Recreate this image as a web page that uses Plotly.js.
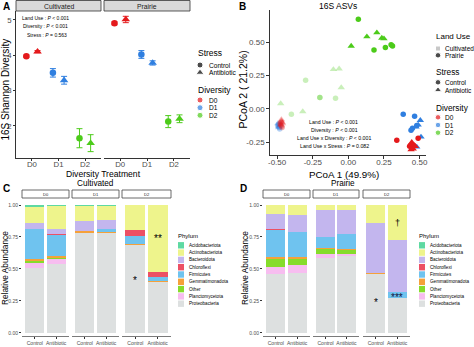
<!DOCTYPE html>
<html><head><meta charset="utf-8">
<script src="https://cdn.plot.ly/plotly-3.0.1.min.js"></script>
<style>html,body{margin:0;padding:0;background:#fff}#chart{width:474px;height:347px}</style>
</head><body><div id="chart"></div>
<script>
const W=474,H=347;
// ---------- Panel A: Shannon diversity ----------
const diversityLevels=['D0','D1','D2'];
const stressLevels=['Control','Antibiotic'];
const shannonCultControl=[3.97,3.50,1.65];
const shannonCultControlSE=[0.03,0.12,0.27];
const shannonCultAntibiotic=[4.10,3.29,1.51];
const shannonCultAntibioticSE=[0.03,0.11,0.24];
const shannonPrairieControl=[4.90,4.02,2.12];
const shannonPrairieControlSE=[0.04,0.11,0.17];
const shannonPrairieAntibiotic=[5.01,3.78,2.20];
const shannonPrairieAntibioticSE=[0.09,0.06,0.11];
// ---------- Panel B: PCoA ----------
const pcoaCultD0CtrlX=[-0.475,-0.468,-0.480,-0.465,-0.472];
const pcoaCultD0CtrlY=[-0.120,-0.130,-0.110,-0.140,-0.100];
const pcoaCultD0AbX=[-0.470,-0.465,-0.475,-0.462,-0.470];
const pcoaCultD0AbY=[-0.080,-0.100,-0.120,-0.110,-0.090];
const pcoaCultD1CtrlX=[-0.492,-0.485,-0.495,-0.482,-0.490];
const pcoaCultD1CtrlY=[-0.120,-0.140,-0.130,-0.150,-0.115];
const pcoaCultD1AbX=[-0.495,-0.486,-0.480,-0.490,-0.478];
const pcoaCultD1AbY=[-0.110,-0.130,-0.120,-0.140,-0.105];
const pcoaCultD2CtrlX=[-0.20,-0.09,-0.30,-0.40,-0.20];
const pcoaCultD2CtrlY=[0.085,0.080,0.215,-0.040,0.085];
const pcoaCultD2AbX=[-0.475,-0.32,-0.105,-0.065,-0.05];
const pcoaCultD2AbY=[0.040,-0.020,0.295,0.300,0.160];
const pcoaPrairieD0CtrlX=[0.34,0.49,0.44,0.45,0.43];
const pcoaPrairieD0CtrlY=[-0.235,-0.220,-0.270,-0.290,-0.280];
const pcoaPrairieD0AbX=[0.445,0.46,0.455,0.44,0.47];
const pcoaPrairieD0AbY=[-0.250,-0.270,-0.300,-0.305,-0.280];
const pcoaPrairieD1CtrlX=[0.385,0.465,0.45,0.44,0.48];
const pcoaPrairieD1CtrlY=[-0.040,-0.055,-0.145,-0.160,-0.125];
const pcoaPrairieD1AbX=[0.505,0.49,0.475,0.51,0.48];
const pcoaPrairieD1AbY=[-0.085,-0.120,-0.135,-0.210,-0.285];
const pcoaPrairieD2CtrlX=[0.07,0.18,0.26,0.30,0.31];
const pcoaPrairieD2CtrlY=[0.670,0.440,0.460,0.480,0.470];
const pcoaPrairieD2AbX=[0.02,0.13,0.20,0.235,0.25];
const pcoaPrairieD2AbY=[0.470,0.540,0.570,0.530,0.525];
// ---------- Panels C/D: relative abundance (D0 Ctrl, D0 Ab, D1 Ctrl, D1 Ab, D2 Ctrl, D2 Ab) ----------
const phyla=['Acidobacteriota','Actinobacteriota','Bacteroidota','Chloroflexi','Firmicutes','Gemmatimonadota','Other','Planctomycetota','Proteobacteria'];
const phylumColors=['#5ed9a2','#eef48c','#c3b6ee','#ec5064','#6fc3ef','#f5a13a','#86dc2c','#f7bdf0','#dde0e0'];
const cultAcidobacteriota=[0.015,0.008,0.010,0.010,0.002,0.000];
const cultActinobacteriota=[0.125,0.180,0.115,0.105,0.192,0.527];
const cultBacteroidota=[0.045,0.040,0.075,0.070,0.000,0.000];
const cultChloroflexi=[0.005,0.010,0.005,0.005,0.050,0.035];
const cultFirmicutes=[0.230,0.160,0.000,0.020,0.060,0.035];
const cultGemmatimonadota=[0.015,0.015,0.015,0.010,0.008,0.008];
const cultOther=[0.015,0.012,0.000,0.000,0.000,0.000];
const cultPlanctomycetota=[0.040,0.040,0.000,0.000,0.000,0.000];
const cultProteobacteria=[0.510,0.535,0.780,0.780,0.690,0.395];
const prairieAcidobacteriota=[0.000,0.000,0.000,0.000,0.000,0.000];
const prairieActinobacteriota=[0.073,0.078,0.040,0.040,0.143,0.270];
const prairieBacteroidota=[0.117,0.130,0.207,0.187,0.387,0.410];
const prairieChloroflexi=[0.006,0.006,0.003,0.003,0.000,0.000];
const prairieFirmicutes=[0.209,0.196,0.090,0.115,0.000,0.050];
const prairieGemmatimonadota=[0.018,0.015,0.005,0.005,0.010,0.000];
const prairieOther=[0.065,0.045,0.040,0.030,0.000,0.000];
const prairiePlanctomycetota=[0.055,0.060,0.030,0.020,0.000,0.000];
const prairieProteobacteria=[0.457,0.470,0.585,0.600,0.460,0.270];
const cultData=[cultAcidobacteriota,cultActinobacteriota,cultBacteroidota,cultChloroflexi,cultFirmicutes,cultGemmatimonadota,cultOther,cultPlanctomycetota,cultProteobacteria];
const prairieData=[prairieAcidobacteriota,prairieActinobacteriota,prairieBacteroidota,prairieChloroflexi,prairieFirmicutes,prairieGemmatimonadota,prairieOther,prairiePlanctomycetota,prairieProteobacteria];

const FR="Liberation Sans, Arial, sans-serif";
const TICK='#4d4d4d';
const divColors=['#e41a1c','#2f7fe0','#4ccb1a'];
function dx(a,b){return [a/W,b/W];}
function dy(a,b){return [1-b/H,1-a/H];}
function ax(o){return Object.assign({showgrid:false,zeroline:false,showline:false,ticks:'',showticklabels:false,fixedrange:true},o);}

const traces=[];
// Panel A
const dodge=0.21;
const aSeries=[
 {vals:shannonCultControl,se:shannonCultControlSE,ctrl:true,xa:'x',ya:'y'},
 {vals:shannonCultAntibiotic,se:shannonCultAntibioticSE,ctrl:false,xa:'x',ya:'y'},
 {vals:shannonPrairieControl,se:shannonPrairieControlSE,ctrl:true,xa:'x2',ya:'y2'},
 {vals:shannonPrairieAntibiotic,se:shannonPrairieAntibioticSE,ctrl:false,xa:'x2',ya:'y2'}];
aSeries.forEach(s=>{
  diversityLevels.forEach((d,i)=>{
    traces.push({type:'scatter',mode:'markers',x:[i+(s.ctrl?-dodge:dodge)],y:[s.vals[i]],
      error_y:{type:'data',array:[s.se[i]],color:divColors[i],thickness:1,width:3},
      marker:{symbol:s.ctrl?'circle':'triangle-up',size:s.ctrl?6.5:7.5,color:divColors[i]},
      xaxis:s.xa,yaxis:s.ya,showlegend:false,hoverinfo:'skip',cliponaxis:false});
  });
});
// Panel B
const bGroups=[
 [pcoaCultD2CtrlX,pcoaCultD2CtrlY,2,true,0.3],[pcoaCultD2AbX,pcoaCultD2AbY,2,false,0.3],
 [pcoaCultD1CtrlX,pcoaCultD1CtrlY,1,true,0.35],[pcoaCultD1AbX,pcoaCultD1AbY,1,false,0.35],
 [pcoaCultD0CtrlX,pcoaCultD0CtrlY,0,true,0.35],[pcoaCultD0AbX,pcoaCultD0AbY,0,false,0.35],
 [pcoaPrairieD2CtrlX,pcoaPrairieD2CtrlY,2,true,1],[pcoaPrairieD2AbX,pcoaPrairieD2AbY,2,false,1],
 [pcoaPrairieD1CtrlX,pcoaPrairieD1CtrlY,1,true,1],[pcoaPrairieD1AbX,pcoaPrairieD1AbY,1,false,1],
 [pcoaPrairieD0CtrlX,pcoaPrairieD0CtrlY,0,true,1],[pcoaPrairieD0AbX,pcoaPrairieD0AbY,0,false,1]];
bGroups.forEach(g=>{
  traces.push({type:'scatter',mode:'markers',x:g[0],y:g[1],xaxis:'x3',yaxis:'y3',
    marker:{symbol:g[3]?'circle':'triangle-up',size:g[3]?5.5:6.5,color:divColors[g[2]],opacity:g[4]},
    showlegend:false,hoverinfo:'skip'});
});
// Panels C, D
function addBars(data,axStart){
  for(let f=0;f<3;f++){
    for(let p=phyla.length-1;p>=0;p--){
      traces.push({type:'bar',x:stressLevels,y:[data[p][2*f],data[p][2*f+1]],width:0.9,
        marker:{color:phylumColors[p],line:{width:0}},xaxis:'x'+(axStart+f),yaxis:'y'+(axStart+f),
        showlegend:false,hoverinfo:'skip'});
    }
  }
}
addBars(cultData,4);
addBars(prairieData,7);
// Legend keys (overlay pixel axis)
traces.push({type:'scatter',mode:'markers',xaxis:'x10',yaxis:'y10',hoverinfo:'skip',showlegend:false,
  x:[200,200,200,200,200],y:[65,72.5,100,107.7,115.3],
  marker:{symbol:['circle','triangle-up','circle','circle','circle'],size:[6,7,6,6,6],color:['#000','#000',divColors[0],divColors[1],divColors[2]]}});
traces.push({type:'scatter',mode:'markers',xaxis:'x10',yaxis:'y10',hoverinfo:'skip',showlegend:false,
  x:[438,438,438,438,438,438,438],y:[48.5,55.3,82.3,90,117.3,125,132.7],
  marker:{symbol:['square','circle','circle','triangle-up','circle','circle','circle'],size:[5,5.5,5.5,6.5,5.5,5.5,5.5],
  color:['rgba(0,0,0,0.3)','#000','#000','#000',divColors[0],divColors[1],divColors[2]]}});

const shapes=[];
function rect(x0,y0,x1,y1,fill,line){shapes.push({type:'rect',xref:'x10',yref:'y10',x0:x0,x1:x1,y0:y0,y1:y1,fillcolor:fill,line:{color:line||'rgba(0,0,0,0)',width:line?0.8:0}});}
rect(16,0.5,101,11,'#d9d9d9','#333');
rect(104,0.5,190,11,'#d9d9d9','#333');
[[22,69],[72,119],[122,171],[263,310],[313,359],[363,410]].forEach(s=>rect(s[0],190,s[1],198,'#ffffff','#444'));
const legY0=245.3, legStep=7.3;
phyla.forEach((p,i)=>{
  rect(178,legY0+i*legStep-3.2,184,legY0+i*legStep+3.2,phylumColors[i]);
  rect(419,legY0+i*legStep-3.2,425,legY0+i*legStep+3.2,phylumColors[i]);
});

const ann=[];
function T(x,y,text,size,o){ann.push(Object.assign({xref:'x10',yref:'y10',x:x,y:y,text:text,showarrow:false,
  font:{family:FR,size:size,color:'#000'},xanchor:'center',yanchor:'middle'},o||{}));}
T(1,6,'<b>A</b>',10,{xanchor:'left'});
T(237,6,'<b>B</b>',10,{xanchor:'left'});
T(1,188,'<b>C</b>',10,{xanchor:'left'});
T(238,188,'<b>D</b>',10,{xanchor:'left'});
T(338,6,'16S ASVs',8.5);
T(95,183.5,'Cultivated',8.2);
T(343,183.5,'Prairie',8.2);
T(58.5,6,'Cultivated',6.8,{font:{family:FR,size:6.8,color:'#1a1a1a'}});
T(147,6,'Prairie',6.8,{font:{family:FR,size:6.8,color:'#1a1a1a'}});
[[45.5,'D0'],[95.5,'D1'],[146.5,'D2'],[286.5,'D0'],[336,'D1'],[386.5,'D2']].forEach(s=>T(s[0],194.2,s[1],4,{font:{family:FR,size:4,color:'#1a1a1a'}}));
T(4.5,90,'16S Shannon Diversity',10,{textangle:-90});
T(103,174,'Diversity Treatment',8.6);
T(242.5,90,'PCoA 2 ( 21.2%)',10.5,{textangle:-90});
T(344,174,'PCoA 1 (49.9%)',9.8);
T(5,268,'Relative Abundance',8.3,{textangle:-90});
T(245,268,'Relative Abundance',8.3,{textangle:-90});
T(45,17.5,'Land Use : <i>P</i> < 0.001',5);
T(45,26,'Diversity : <i>P</i> < 0.001',5);
T(47,35,'Stress : <i>P</i> = 0.563',5);
T(333,122,'Land Use : <i>P</i> < 0.001',5.2);
T(334,130,'Diversity : <i>P</i> < 0.001',5.2);
T(334,138.3,'Land Use x Diversity : <i>P</i> < 0.001',5.2);
T(334,146.3,'Land Use x Stress : <i>P</i> = 0.082',5.2);
T(196,53,'Stress',8.5,{xanchor:'left'});
T(207,65,'Control',6.6,{xanchor:'left'});
T(207,72.5,'Antibiotic',6.6,{xanchor:'left'});
T(196,90,'Diversity',8.5,{xanchor:'left'});
diversityLevels.forEach((d,i)=>T(207,100+i*7.65,d,6.6,{xanchor:'left'}));
T(434,36,'Land Use',8,{xanchor:'left'});
T(443,48.5,'Cultivated',6.5,{xanchor:'left'});
T(443,55.3,'Prairie',6.5,{xanchor:'left'});
T(434,72,'Stress',8.3,{xanchor:'left'});
T(443,82.3,'Control',6.5,{xanchor:'left'});
T(443,90,'Antibiotic',6.5,{xanchor:'left'});
T(434,108,'Diversity',8.3,{xanchor:'left'});
diversityLevels.forEach((d,i)=>T(443,117.3+i*7.7,d,6.5,{xanchor:'left'}));
T(176,235.5,'Phylum',6,{xanchor:'left'});
T(417,235.5,'Phylum',6,{xanchor:'left'});
phyla.forEach((p,i)=>{
  T(187,legY0+i*legStep,p,4.6,{xanchor:'left'});
  T(428,legY0+i*legStep,p,4.6,{xanchor:'left'});
});
function S(xa,ya,x,y,text,size,color){ann.push({xref:xa,yref:ya,x:x,y:y,text:text,showarrow:false,
  font:{family:FR,size:size,color:color||'#000'},xanchor:'center',yanchor:'middle'});}
S('x6','y6',0,0.41,'*',10);
S('x6','y6',1,0.735,'**',10);
S('x9','y9',0,0.24,'*',10);
S('x9','y9',1,0.28,'***',10,'#14143c');
S('x9','y9',1,0.86,'†',9);

const tfA={family:FR,size:7.8,color:TICK};
const tfB={family:FR,size:8,color:TICK};
const lineA={showline:true,linecolor:'#000',linewidth:0.8,ticks:'outside',ticklen:2,tickcolor:'#333',showticklabels:true};
const layout={width:W,height:H,margin:{l:0,r:0,t:0,b:0},paper_bgcolor:'#fff',plot_bgcolor:'rgba(0,0,0,0)',
  showlegend:false,barmode:'stack',shapes:shapes,annotations:ann,
  xaxis:ax(Object.assign({domain:dx(16,101),range:[-0.6,2.6],anchor:'y',tickvals:[0,1,2],ticktext:diversityLevels,tickfont:tfA},lineA,{ticklabelstandoff:-3})),
  yaxis:ax(Object.assign({domain:dy(11,158),range:[1.09,5.25],anchor:'x',tickvals:[2,3,4,5],ticktext:['2','3','4','5'],tickfont:tfA},lineA)),
  xaxis2:ax(Object.assign({domain:dx(104,190),range:[-0.6,2.6],anchor:'y2',tickvals:[0,1,2],ticktext:diversityLevels,tickfont:tfA},lineA,{ticklabelstandoff:-3})),
  yaxis2:ax({domain:dy(11,158),range:[1.09,5.25],anchor:'x2'}),
  xaxis3:ax(Object.assign({domain:dx(270,426),range:[-0.55,0.545],anchor:'y3',tickvals:[-0.5,-0.25,0,0.25,0.5],ticktext:['-0.50','-0.25','0.00','0.25','0.50'],tickfont:tfB},lineA,{ticklen:3,ticklabelstandoff:-3})),
  yaxis3:ax(Object.assign({domain:dy(10,155),range:[-0.345,0.74],anchor:'x3',tickvals:[-0.25,0,0.25,0.5],ticktext:['-0.25','0.00','0.25','0.50'],tickfont:tfB},lineA,{ticklen:3})),
  xaxis10:ax({domain:[0,1],range:[0,W],anchor:'y10'}),
  yaxis10:ax({domain:[0,1],range:[H,0],anchor:'x10'})
};
const facetX=[[22,69],[72,119],[122,171],[263,310],[313,359],[363,410]];
facetX.forEach((fx,k)=>{
  const n=4+k;
  layout['xaxis'+n]=ax({domain:dx(fx[0],fx[1]),type:'category',categoryarray:stressLevels,range:[-0.6,1.6],anchor:'y'+n,
    showticklabels:true,ticks:'outside',ticklen:2,tickcolor:'#333',tickfont:{family:FR,size:5,color:TICK},showline:true,linecolor:'#222',linewidth:0.6});
  const first=(k===0||k===3);
  layout['yaxis'+n]=ax({domain:dy(198,336),range:[-0.025,1.055],anchor:'x'+n,tickvals:[0,0.25,0.5,0.75,1],ticktext:['0.00','0.25','0.50','0.75','1.00'],
    showticklabels:first,ticks:first?'outside':'',ticklen:2,tickcolor:'#333',tickfont:{family:FR,size:5,color:TICK}});
});
Plotly.newPlot('chart',traces,layout,{staticPlot:true,displayModeBar:false});
</script></body></html>
